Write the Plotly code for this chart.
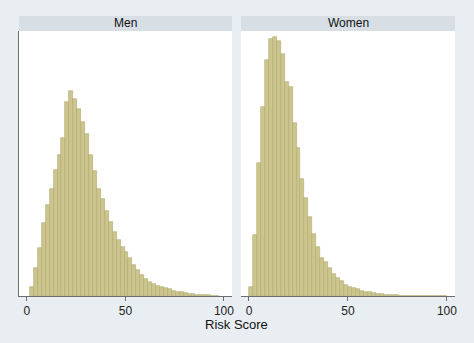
import numpy as np
import plotly.graph_objects as go

# ---- data (density per bin, bin width 2 risk-score points) ----
panels = ["Men", "Women"]
bin_width = 2.0
men_bin_start = 1.5
women_bin_start = 0.0

men_density = [0.0016, 0.0047, 0.0081, 0.0123, 0.0154, 0.0181, 0.0213, 0.0238, 0.0267, 0.0328,
               0.0346, 0.0333, 0.0316, 0.0294, 0.0274, 0.0238, 0.0211, 0.0181, 0.0164, 0.0144,
               0.0125, 0.0108, 0.0095, 0.0083, 0.0074, 0.0064, 0.0052, 0.0044, 0.0035, 0.0029,
               0.0024, 0.0021, 0.0017, 0.0016, 0.0013, 0.0011, 0.0009, 0.0007, 0.0006, 0.0005,
               0.0003, 0.0003, 0.0002, 0.0002, 0.0001, 0.0001, 0.00005, 0.00003]

women_density = [0.0015, 0.0103, 0.0225, 0.0319, 0.0399, 0.0435, 0.0438, 0.0431, 0.0409, 0.0362,
                 0.0353, 0.0292, 0.0250, 0.0198, 0.0165, 0.0134, 0.0105, 0.0083, 0.0065, 0.0058,
                 0.0047, 0.0038, 0.0030, 0.0025, 0.0019, 0.0016, 0.0013, 0.0011, 0.0008, 0.0007,
                 0.0006, 0.0005, 0.0003, 0.0003, 0.0002, 0.0001, 0.0001, 0.0001, 0.00005, 0.00005,
                 0.00004, 0.00003, 0.00003, 0.00002, 0.00002, 0.00003, 0.00002, 0.00002, 0.00002, 0.00001]

x_ticks = [0, 50, 100]
x_title = "Risk Score"

# ---- styling ----
BG = "#E9EEF2"
STRIP = "#D7DFE5"
BAR_FILL = "rgb(204,198,142)"
BAR_LINE = "rgb(176,170,110)"
AXIS = "#6E6E6E"
FONT = "Liberation Sans, Arial, sans-serif"

W, H = 474, 343
px = lambda v: v / W
py = lambda v: 1 - v / H

dom_left = [px(19), px(233)]
dom_right = [px(242), px(457)]
dom_y = [py(296), py(31)]

fig = go.Figure()

def centers(start, n):
    return start + bin_width * (np.arange(n) + 0.5)

fig.add_trace(go.Bar(x=centers(men_bin_start, len(men_density)), y=men_density,
                     width=bin_width, marker=dict(color=BAR_FILL, line=dict(color=BAR_LINE, width=0.6)),
                     xaxis="x", yaxis="y", showlegend=False, hoverinfo="skip"))
fig.add_trace(go.Bar(x=centers(women_bin_start, len(women_density)), y=women_density,
                     width=bin_width, marker=dict(color=BAR_FILL, line=dict(color=BAR_LINE, width=0.6)),
                     xaxis="x2", yaxis="y2", showlegend=False, hoverinfo="skip"))

xcommon = dict(range=[-4.05, 104.1], tickvals=x_ticks, ticktext=[str(t) for t in x_ticks],
               ticks="outside", ticklen=4, tickcolor=AXIS, showline=True, linecolor=AXIS,
               linewidth=1, showgrid=False, zeroline=False,
               tickfont=dict(family=FONT, size=12, color="#222"))
ymax = 0.0448
ycommon = dict(range=[0, ymax], showticklabels=False, ticks="", showgrid=False, zeroline=False)

fig.update_layout(
    width=W, height=H,
    margin=dict(l=0, r=0, t=0, b=0),
    paper_bgcolor=BG, plot_bgcolor="white",
    bargap=0,
    xaxis=dict(domain=dom_left, anchor="y", **xcommon),
    yaxis=dict(domain=dom_y, anchor="x", showline=True, linecolor=AXIS, linewidth=1, **ycommon),
    xaxis2=dict(domain=dom_right, anchor="y2", **xcommon),
    yaxis2=dict(domain=dom_y, anchor="x2", showline=False, **ycommon),
    font=dict(family=FONT),
)

# strip headers
for dom, label in zip([dom_left, dom_right], panels):
    fig.add_shape(type="rect", xref="paper", yref="paper",
                  x0=dom[0], x1=dom[1], y0=py(31), y1=py(16),
                  fillcolor=STRIP, line=dict(width=0), layer="below")
    fig.add_annotation(xref="paper", yref="paper", x=(dom[0] + dom[1]) / 2, y=(py(31) + py(16)) / 2,
                       text=label, showarrow=False, xanchor="center", yanchor="middle",
                       font=dict(family=FONT, size=12, color="#111"))

fig.add_annotation(xref="paper", yref="paper", x=px(237), y=py(324), text=x_title,
                   showarrow=False, xanchor="center", yanchor="middle",
                   font=dict(family=FONT, size=13, color="#111"))

fig.write_html("out.html")
